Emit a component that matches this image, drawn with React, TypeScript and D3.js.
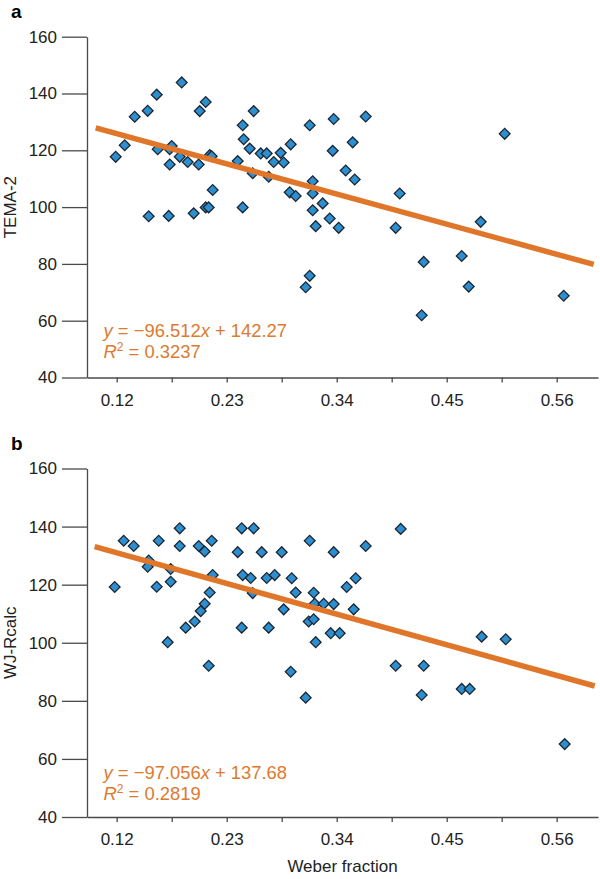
import { useEffect, useRef } from 'react';
import * as d3 from 'd3';

// x tick positions (only every other one is labelled)
const xTicks = [0.12, 0.175, 0.23, 0.285, 0.34, 0.395, 0.45, 0.505, 0.56];
const xLabelled = [0.12, 0.23, 0.34, 0.45, 0.56];
const yTicks = [40, 60, 80, 100, 120, 140, 160];

// panel a: Weber fraction vs TEMA-2
const temaPoints: [number, number][] = [
  [0.119, 117.7], [0.128, 121.8], [0.138, 131.8], [0.151, 133.9], [0.160, 139.6],
  [0.161, 120.4], [0.173, 120.4], [0.175, 121.5], [0.183, 117.7], [0.173, 115.0],
  [0.191, 115.9], [0.185, 143.9], [0.203, 133.8], [0.209, 137.0], [0.202, 115.0],
  [0.213, 118.3], [0.215, 117.9], [0.216, 106.0], [0.209, 99.9], [0.212, 99.9],
  [0.197, 97.8], [0.172, 96.9], [0.152, 96.8], [0.241, 116.2], [0.246, 128.8],
  [0.247, 123.9], [0.253, 120.6], [0.257, 133.8], [0.256, 111.9], [0.246, 99.9],
  [0.264, 118.9], [0.270, 118.9], [0.272, 110.7], [0.277, 115.9], [0.284, 119.1],
  [0.287, 115.7], [0.294, 122.1], [0.293, 105.2], [0.299, 103.9], [0.313, 128.8],
  [0.316, 109.1], [0.316, 104.8], [0.326, 101.3], [0.316, 98.9], [0.333, 96.0],
  [0.319, 93.3], [0.342, 92.7], [0.337, 131.0], [0.336, 119.8], [0.356, 122.8],
  [0.349, 112.9], [0.358, 109.7], [0.369, 131.9], [0.403, 104.8], [0.399, 92.7],
  [0.508, 125.8], [0.484, 94.8], [0.427, 80.7], [0.465, 82.8], [0.472, 72.0],
  [0.425, 61.9], [0.313, 75.8], [0.309, 71.8], [0.567, 68.8],
];

// panel b: Weber fraction vs WJ-Rcalc
const wjPoints: [number, number][] = [
  [0.118, 119.2], [0.127, 135.1], [0.137, 133.3], [0.152, 128.3], [0.151, 126.2],
  [0.162, 135.1], [0.160, 119.3], [0.174, 125.4], [0.174, 121.0], [0.183, 139.4],
  [0.183, 133.3], [0.202, 133.3], [0.208, 131.4], [0.215, 135.1], [0.216, 123.3],
  [0.213, 117.3], [0.208, 113.4], [0.204, 110.9], [0.198, 107.3], [0.189, 105.2],
  [0.171, 100.2], [0.212, 92.1], [0.245, 139.4], [0.257, 139.4], [0.241, 131.2],
  [0.246, 123.3], [0.254, 122.3], [0.265, 131.2], [0.270, 122.3], [0.278, 123.3],
  [0.285, 131.2], [0.256, 117.1], [0.245, 105.2], [0.272, 105.2], [0.295, 122.2],
  [0.299, 117.3], [0.287, 111.5], [0.294, 90.0], [0.309, 81.1], [0.313, 135.1],
  [0.317, 117.2], [0.318, 113.4], [0.312, 107.3], [0.317, 108.1], [0.319, 100.2],
  [0.327, 113.4], [0.337, 113.3], [0.334, 103.3], [0.343, 103.3], [0.337, 131.2],
  [0.350, 119.2], [0.359, 122.2], [0.357, 111.5], [0.369, 133.3], [0.404, 139.2],
  [0.399, 92.1], [0.427, 92.1], [0.425, 82.0], [0.465, 84.1], [0.473, 84.1],
  [0.485, 102.1], [0.509, 101.2], [0.568, 65.1],
];

// trend line end points as drawn
const temaFit: [number, number][] = [[0.099, 127.9], [0.597, 79.8]];
const wjFit: [number, number][] = [[0.098, 133.1], [0.598, 85.1]];

const FONT = '"Liberation Sans", Arial, Helvetica, sans-serif';
const AXIS = '#4a4a4a';
const BLUE = '#2e8fd0';
const ORANGE = '#e0762a';
const TEXT_ORANGE = '#dc7a30';

interface PanelSpec {
  letter: string;
  yLabel: string;
  points: [number, number][];
  fit: [number, number][];
  slope: string;
  intercept: string;
  r2: string;
  top: number;
  bottom: number;
  eqY: number;
}

const panels: PanelSpec[] = [
  { letter: 'a', yLabel: 'TEMA-2', points: temaPoints, fit: temaFit, slope: '96.512', intercept: '142.27', r2: '0.3237', top: 36.7, bottom: 377.5, eqY: 337 },
  { letter: 'b', yLabel: 'WJ-Rcalc', points: wjPoints, fit: wjFit, slope: '97.056', intercept: '137.68', r2: '0.2819', top: 468.5, bottom: 817, eqY: 778.5 },
];

export default function App() {
  const svgRef = useRef<SVGSVGElement>(null);

  useEffect(() => {
    if (!svgRef.current) return;
    const svg = d3.select(svgRef.current);
    svg.selectAll('*').remove();

    const x = d3.scaleLinear().domain([0.0903, 0.6013]).range([87, 598]);
    const diamond = d3.symbol().type(d3.symbolSquare).size(58);

    panels.forEach(p => {
      const y = d3.scaleLinear().domain([40, 160]).range([p.bottom, p.top]);
      const g = svg.append('g');

      // panel letter
      g.append('text')
        .attr('x', 11)
        .attr('y', p.top - 18.5)
        .style('font-family', FONT)
        .style('font-size', '19px')
        .style('font-weight', 'bold')
        .text(p.letter);

      // y axis with long outer ticks
      const yAxis = g.append('g')
        .attr('transform', 'translate(87,0)')
        .call(d3.axisLeft(y).tickValues(yTicks).tickSize(25).tickSizeOuter(0).tickPadding(5));
      yAxis.selectAll('path, line').attr('stroke', AXIS).attr('stroke-width', 1.3);
      yAxis.selectAll('text')
        .style('font-family', FONT)
        .style('font-size', '17px')
        .attr('fill', '#222');

      // x axis
      const xAxis = g.append('g')
        .attr('transform', `translate(0,${p.bottom})`)
        .call(
          d3.axisBottom(x)
            .tickValues(xTicks)
            .tickSize(5)
            .tickSizeOuter(0)
            .tickPadding(11)
            .tickFormat(d => (xLabelled.some(v => Math.abs(v - +d) < 1e-6) ? (+d).toFixed(2) : '')),
        );
      xAxis.selectAll('path, line').attr('stroke', AXIS).attr('stroke-width', 1.3);
      xAxis.selectAll('text')
        .style('font-family', FONT)
        .style('font-size', '17px')
        .attr('fill', '#222');

      // y axis title
      g.append('text')
        .attr('transform', `translate(16,${(p.top + p.bottom) / 2}) rotate(-90)`)
        .attr('text-anchor', 'middle')
        .style('font-family', FONT)
        .style('font-size', '17px')
        .attr('fill', '#222')
        .text(p.yLabel);

      // points
      g.selectAll('.pt')
        .data(p.points)
        .enter()
        .append('path')
        .attr('class', 'pt')
        .attr('d', diamond)
        .attr('transform', d => `translate(${x(d[0])},${y(d[1])}) rotate(45)`)
        .attr('fill', BLUE)
        .attr('stroke', '#1b2733')
        .attr('stroke-width', 1.3);

      // regression line
      g.append('path')
        .datum(p.fit)
        .attr('d', d3.line<[number, number]>().x(d => x(d[0])).y(d => y(d[1])))
        .attr('stroke', ORANGE)
        .attr('stroke-width', 5.5)
        .attr('fill', 'none');

      // equation
      const eq = g.append('text')
        .attr('x', 103.5)
        .attr('y', p.eqY)
        .style('font-family', FONT)
        .style('font-size', '18.4px')
        .attr('fill', TEXT_ORANGE);
      eq.append('tspan').style('font-style', 'italic').text('y');
      eq.append('tspan').text(` = \u2212${p.slope}`);
      eq.append('tspan').style('font-style', 'italic').text('x');
      eq.append('tspan').text(` + ${p.intercept}`);

      const r2 = g.append('text')
        .attr('x', 103.5)
        .attr('y', p.eqY + 21)
        .style('font-family', FONT)
        .style('font-size', '18.4px')
        .attr('fill', TEXT_ORANGE);
      r2.append('tspan').style('font-style', 'italic').text('R');
      r2.append('tspan').attr('dy', -7).style('font-size', '12px').text('2');
      r2.append('tspan').attr('dy', 7).text(` = ${p.r2}`);
    });

    // shared x title
    svg.append('text')
      .attr('x', 342.5)
      .attr('y', 872)
      .attr('text-anchor', 'middle')
      .style('font-family', FONT)
      .style('font-size', '17px')
      .attr('fill', '#222')
      .text('Weber fraction');
  }, []);

  return (
    <svg
      ref={svgRef}
      width={600}
      height={879}
      style={{ position: 'absolute', left: 0, top: 0, background: '#fff' }}
    />
  );
}
